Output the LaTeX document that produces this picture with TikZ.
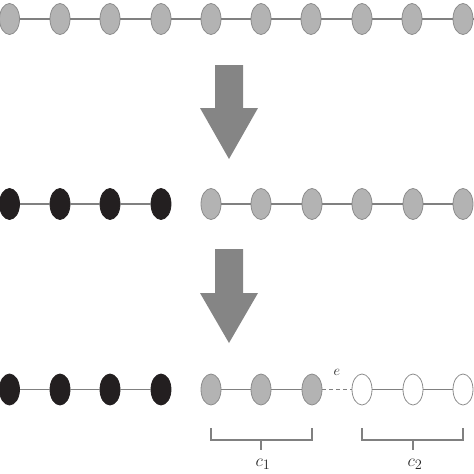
\documentclass[tikz,border=0pt]{standalone}
\usepackage{tikz}
\definecolor{ellfill}{HTML}{B3B3B3}
\definecolor{ellline}{HTML}{8C8C8C}
\definecolor{blk}{HTML}{231F20}
\definecolor{conn}{HTML}{808080}
\definecolor{arr}{HTML}{858585}
\tikzset{
  ell/.style={ellipse, minimum width=20pt, minimum height=31pt, inner sep=0pt, draw=ellline, fill=ellfill, line width=0.8pt},
  bell/.style={ell, draw=blk, fill=blk},
  well/.style={ell, fill=white, draw=ellline},
  conline/.style={draw=conn, line width=1.1pt},
  brk/.style={draw=conn, line width=1.1pt},
  bigarrow/.style={fill=arr, draw=none},
  lab/.style={inner sep=0pt, text=black!85}
}
\usetikzlibrary{shapes.geometric}
\begin{document}
\begin{tikzpicture}[x=1pt,y=-1pt]
\useasboundingbox (0,0) rectangle (474,474);
% row 1
\foreach \i/\x in {1/9.5,2/60,3/110,4/161,5/211,6/261,7/311,8/362,9/412,10/463}{
  \node[ell] (a\i) at (\x,19) {};
}
\foreach \i [evaluate=\i as \j using int(\i+1)] in {1,...,9}{
  \draw[conline] (a\i) -- (a\j);
}
\coordinate (aend) at (474,19);
\draw[conline] (a10) -- (aend);
% arrow 1
\fill[bigarrow] (215,65) -- (243,65) -- (243,108) -- (258,108) -- (229,159) -- (200,108) -- (215,108) -- cycle;
% row 2
\foreach \i/\x in {1/9.5,2/60,3/110,4/161}{
  \node[bell] (b\i) at (\x,204) {};
}
\foreach \i/\x in {5/211,6/261,7/312,8/362,9/413,10/463}{
  \node[ell] (b\i) at (\x,204) {};
}
\foreach \i [evaluate=\i as \j using int(\i+1)] in {1,2,3,5,6,7,8,9}{
  \draw[conline] (b\i) -- (b\j);
}
% arrow 2
\fill[bigarrow] (215,249) -- (243,249) -- (243,293) -- (258,293) -- (229,343) -- (200,293) -- (215,293) -- cycle;
% row 3
\foreach \i/\x in {1/9.5,2/60,3/110,4/161}{
  \node[bell] (c\i) at (\x,389.5) {};
}
\foreach \i/\x in {5/211,6/261,7/312}{
  \node[ell] (c\i) at (\x,389.5) {};
}
\foreach \i/\x in {8/362,9/413,10/463}{
  \node[well] (c\i) at (\x,389.5) {};
}
\foreach \i [evaluate=\i as \j using int(\i+1)] in {1,2,3,5,6,8,9}{
  \draw[conline] (c\i) -- (c\j);
}
\draw[conline, dash pattern=on 4pt off 3pt] (c7) -- (c8);
\node[lab] (e) at (337,372) {\fontsize{15}{18}\selectfont$e$};
% brackets
\draw[brk] (211,428) -- (211,440) -- (312,440) -- (312,428);
\draw[brk] (261,440) -- (261,450);
\node[lab] (c1lab) at (263,464) {\fontsize{19}{22}\selectfont$c_1$};
\draw[brk] (362,428) -- (362,440) -- (463,440) -- (463,428);
\draw[brk] (413,440) -- (413,450);
\node[lab] (c2lab) at (415,464) {\fontsize{19}{22}\selectfont$c_2$};
\end{tikzpicture}
\end{document}
